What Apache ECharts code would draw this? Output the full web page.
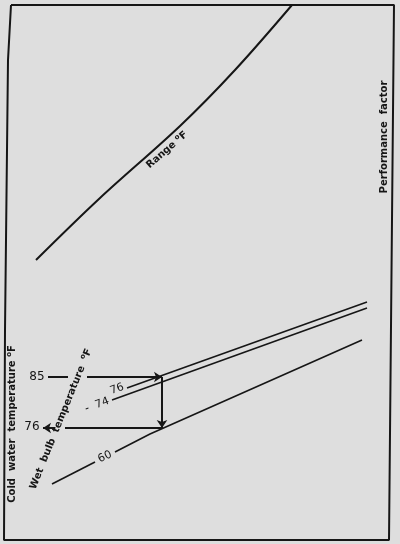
<!DOCTYPE html>
<html><head><meta charset="utf-8">
<script src="https://cdn.jsdelivr.net/npm/echarts@6/dist/echarts.min.js"></script>
<style>html,body{margin:0;padding:0;background:#dedede}#c{width:400px;height:544px}</style>
</head><body><div id="c"></div>
<script>
// Frame of the scanned chart (slightly skewed)
const framePts = [[11,5],[394,5],[389,540],[4,540],[5,330],[8,60],[11,5]];
// Range °F curve
const rangeCurve = [[36,260],[100,198],[180,126],[235,70],[292,5]];
// Wet bulb temperature lines
const wb76 = [[127,388],[367,302]];
const wb74 = [[112,400],[367,308]];
const wb60a = [[52,484],[95,462]];
const wb60b = [[115,452],[150,434],[362,340]];
// Construction path
const arrow85a = [[48,377],[68,377]];
const arrow85b = [[87,377],[162,377]];
const arrowDown = [[162,377],[162,428]];
const arrow76a = [[162,428],[65,428]];
const arrow76b = [[55,428],[43,428]];

const INK = '#161616';
const FONT = 'DejaVu Sans';

function lineSeries(pts, w, smooth) {
  return {type:'line', data: pts, symbol:'none', smooth: smooth || false,
    lineStyle:{color: INK, width: w}, silent:true, animation:false};
}
function arrowSeries(segs, arrow) {
  return {type:'lines', coordinateSystem:'cartesian2d', polyline:false,
    symbol: arrow ? ['none','arrow'] : ['none','none'], symbolSize: 8,
    lineStyle:{color: INK, width: 2, opacity:1, curveness:0},
    itemStyle:{color: INK},
    data: segs.map(s => ({coords: s})), silent:true, animation:false};
}
function txt(x, y, text, deg, size, weight) {
  return {type:'text', x:x, y:y, rotation: deg*Math.PI/180,
    style:{text:text, fill:INK, font: (weight||'bold')+' '+(size||10)+'px "'+FONT+'"', align:'center', verticalAlign:'middle',
      rich:{sup:{fontSize:7, fontWeight:'bold', fill:INK, fontFamily:FONT, padding:[0,0,6,0]}}}};
}

const chart = echarts.init(document.getElementById('c'), null, {renderer:'canvas'});
chart.setOption({
  backgroundColor:'#dedede',
  animation:false,
  grid:{left:0, right:0, top:0, bottom:0},
  xAxis:{type:'value', min:0, max:400, show:false},
  yAxis:{type:'value', min:0, max:544, inverse:true, show:false},
  series:[
    lineSeries(framePts, 2, false),
    lineSeries(rangeCurve, 2, 0.35),
    lineSeries(wb76, 1.6),
    lineSeries(wb74, 1.6),
    lineSeries(wb60a, 1.6),
    lineSeries(wb60b, 1.6),
    arrowSeries([arrow85a], false),
    arrowSeries([arrow85b], true),
    arrowSeries([arrowDown], true),
    arrowSeries([arrow76a], false),
    arrowSeries([arrow76b], true)
  ],
  graphic:[
    txt(37,377,'85',0,12,'normal'),
    txt(32,427,'76',0,12,'normal'),
    txt(117,389,'76',20,11,'normal'),
    txt(97,405,'-  74',20,11,'normal'),
    txt(105,457,'60',25,11,'normal'),
    txt(167,150,'Range {sup|o}F',41,10),
    txt(384,137,'Performance  factor',90,10),
    txt(12,424,'Cold  water  temperature {sup|o}F',90,10),
    txt(61,419,'Wet  bulb  temperature  {sup|o}F',68,10)
  ]
});
</script></body></html>
